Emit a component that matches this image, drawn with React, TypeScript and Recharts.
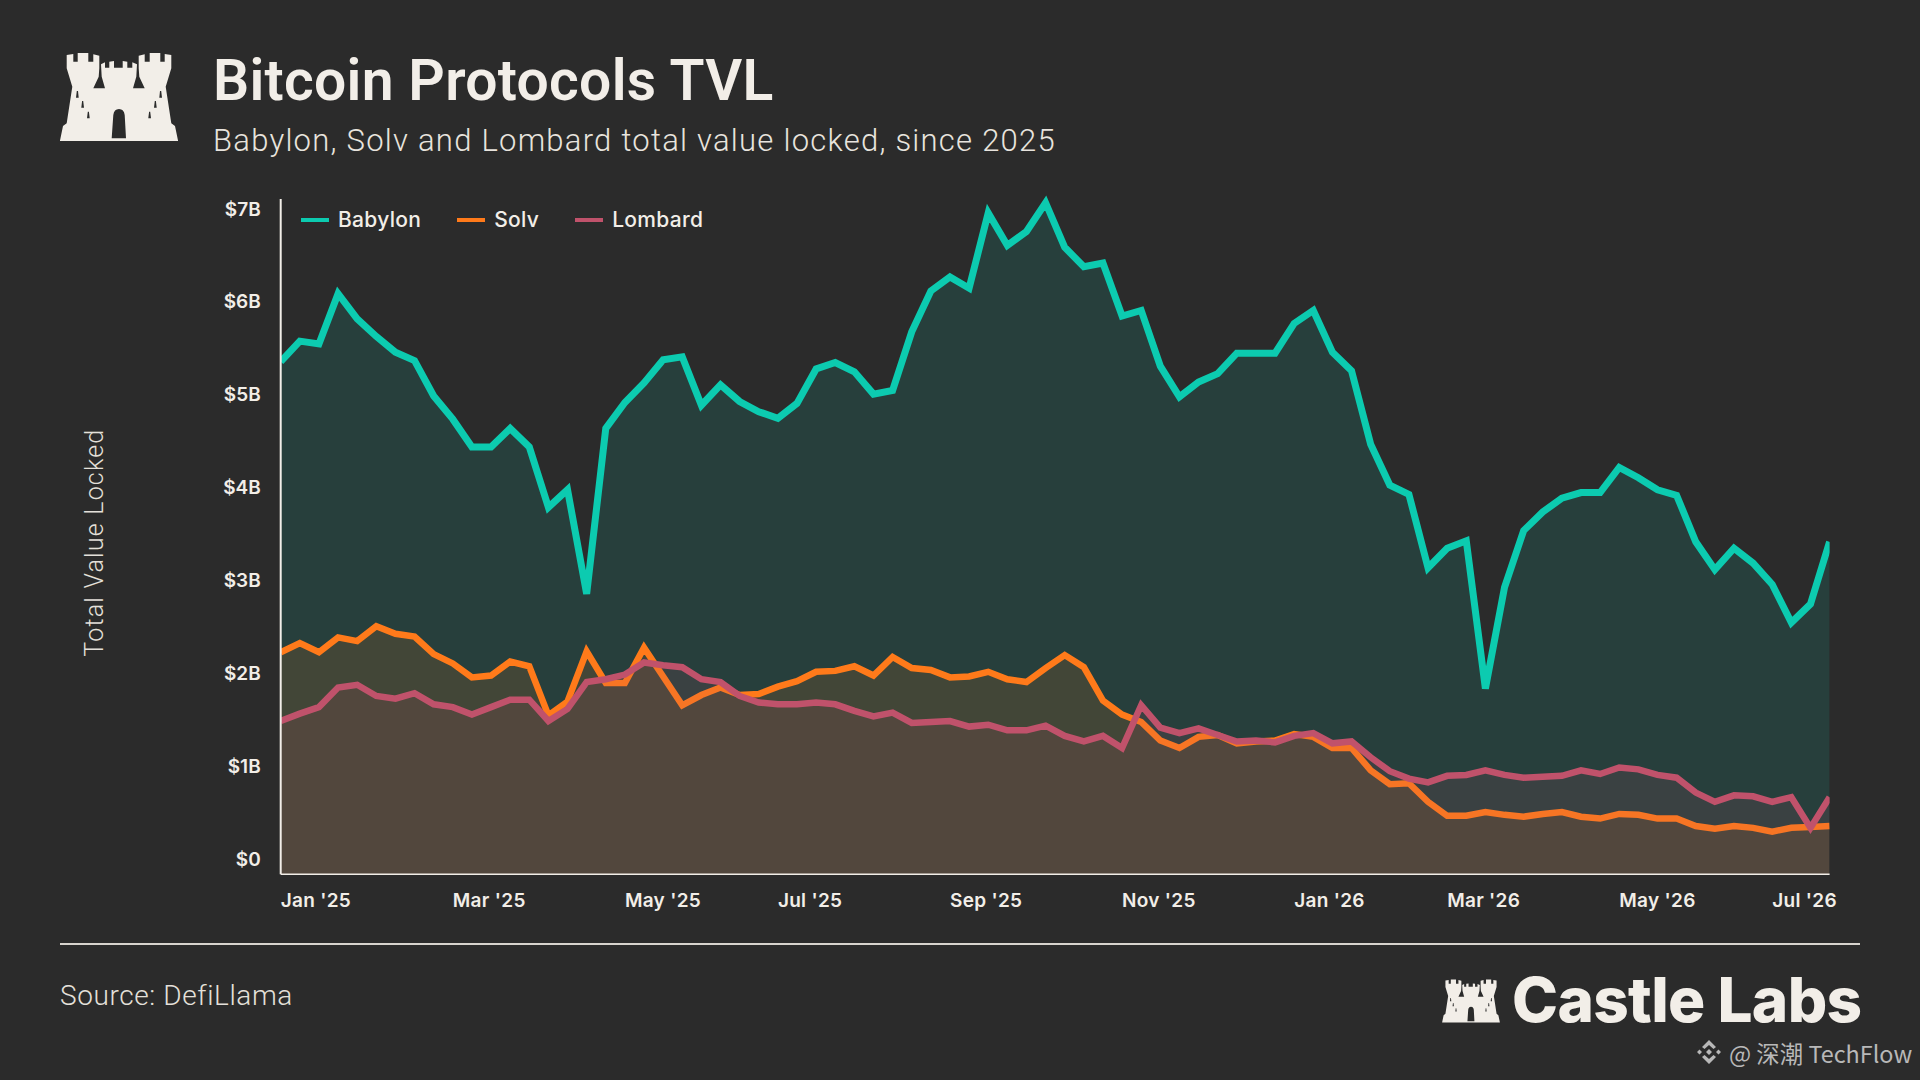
import { AreaChart, Area, XAxis, YAxis, Legend } from "recharts";

const weeks = [
  "2025-01-05", "2025-01-12", "2025-01-19", "2025-01-26", "2025-02-02", "2025-02-09", "2025-02-16", "2025-02-23",
  "2025-03-02", "2025-03-09", "2025-03-16", "2025-03-23", "2025-03-30", "2025-04-06", "2025-04-13", "2025-04-20",
  "2025-04-27", "2025-05-04", "2025-05-11", "2025-05-18", "2025-05-25", "2025-06-01", "2025-06-08", "2025-06-15",
  "2025-06-22", "2025-06-29", "2025-07-06", "2025-07-13", "2025-07-20", "2025-07-27", "2025-08-03", "2025-08-10",
  "2025-08-17", "2025-08-24", "2025-08-31", "2025-09-07", "2025-09-14", "2025-09-21", "2025-09-28", "2025-10-05",
  "2025-10-12", "2025-10-19", "2025-10-26", "2025-11-02", "2025-11-09", "2025-11-16", "2025-11-23", "2025-11-30",
  "2025-12-07", "2025-12-14", "2025-12-21", "2025-12-28", "2026-01-04", "2026-01-11", "2026-01-18", "2026-01-25",
  "2026-02-01", "2026-02-08", "2026-02-15", "2026-02-22", "2026-03-01", "2026-03-08", "2026-03-15", "2026-03-22",
  "2026-03-29", "2026-04-05", "2026-04-12", "2026-04-19", "2026-04-26", "2026-05-03", "2026-05-10", "2026-05-17",
  "2026-05-24", "2026-05-31", "2026-06-07", "2026-06-14", "2026-06-21", "2026-06-28", "2026-07-05", "2026-07-12",
  "2026-07-19", "2026-07-26",
];

const babylon = [
  5.52, 5.74, 5.71, 6.25, 5.98, 5.79, 5.62, 5.53, 5.15, 4.9, 4.6, 4.6, 4.8, 4.6, 3.95, 4.14, 3.02, 4.8, 5.08, 5.29,
  5.54, 5.57, 5.05, 5.27, 5.09, 4.98, 4.91, 5.07, 5.44, 5.51, 5.41, 5.17, 5.21, 5.84, 6.28, 6.43, 6.31, 7.12, 6.77,
  6.92, 7.23, 6.75, 6.54, 6.58, 6.01, 6.07, 5.47, 5.14, 5.3, 5.39, 5.61, 5.61, 5.61, 5.93, 6.07, 5.62, 5.42, 4.63,
  4.19, 4.09, 3.3, 3.51, 3.59, 2.0, 3.09, 3.7, 3.9, 4.05, 4.11, 4.11, 4.38, 4.27, 4.14, 4.08, 3.58, 3.28, 3.51, 3.35,
  3.12, 2.71, 2.91, 3.58,
];

const solv = [
  2.39, 2.49, 2.39, 2.55, 2.51, 2.67, 2.59, 2.56, 2.37, 2.27, 2.12, 2.14, 2.29, 2.24, 1.71, 1.86, 2.4, 2.06, 2.06,
  2.44, 2.13, 1.82, 1.93, 2.01, 1.93, 1.94, 2.02, 2.08, 2.18, 2.19, 2.24, 2.14, 2.34, 2.22, 2.2, 2.12, 2.13, 2.18,
  2.1, 2.07, 2.22, 2.36, 2.23, 1.87, 1.72, 1.64, 1.44, 1.36, 1.48, 1.5, 1.41, 1.43, 1.44, 1.51, 1.48, 1.36, 1.36,
  1.12, 0.97, 0.98, 0.78, 0.63, 0.63, 0.67, 0.64, 0.62, 0.65, 0.67, 0.62, 0.6, 0.65, 0.64, 0.6, 0.6, 0.52, 0.49,
  0.52, 0.5, 0.46, 0.5, 0.51, 0.52,
];

const lombard = [
  1.65, 1.73, 1.8, 2.01, 2.04, 1.92, 1.89, 1.95, 1.83, 1.8, 1.72, 1.8, 1.88, 1.88, 1.65, 1.78, 2.07, 2.1, 2.15, 2.28,
  2.25, 2.23, 2.1, 2.07, 1.92, 1.85, 1.83, 1.83, 1.85, 1.83, 1.76, 1.7, 1.74, 1.63, 1.64, 1.65, 1.59, 1.61, 1.55,
  1.55, 1.6, 1.49, 1.43, 1.49, 1.36, 1.82, 1.58, 1.52, 1.57, 1.5, 1.43, 1.44, 1.42, 1.49, 1.52, 1.41, 1.43, 1.26,
  1.11, 1.03, 0.99, 1.06, 1.07, 1.12, 1.07, 1.04, 1.05, 1.06, 1.12, 1.08, 1.15, 1.13, 1.07, 1.04, 0.88, 0.78, 0.85,
  0.84, 0.78, 0.83, 0.5, 0.83,
];

const xTicks = [
  "2025-01-05", "2025-03-09", "2025-05-11", "2025-07-06", "2025-09-07", "2025-11-09", "2026-01-11", "2026-03-08",
  "2026-05-10", "2026-07-05",
];
const xTickLabels = ["Jan '25", "Mar '25", "May '25", "Jul '25", "Sep '25", "Nov '25", "Jan '26", "Mar '26", "May '26", "Jul '26"];
const yTicks = [0, 1, 2, 3, 4, 5, 6, 7];

const chartData = weeks.map((week, i) => ({
  week,
  Babylon: babylon[i],
  Solv: solv[i],
  Lombard: lombard[i],
}));

const BG = "#2b2b2b";
const CREAM = "#f2eee8";
const TEAL = "#0ccbb0";
const ORANGE = "#ff7a1a";
const ROSE = "#c0526b";
const FONT = "Inter, sans-serif";

function Castle({ x, y, width, height }: { x: number; y: number; width: number; height: number }) {
  return (
    <svg style={{ position: "absolute", left: x, top: y }} width={width} height={height} viewBox="0 0 118 90">
      <path
        fill={CREAM}
        fillRule="evenodd"
        d="M6.7 3 L13.3 2 L13.3 9.7 L17.7 9.7 L17.7 1 L28.3 1 L28.3 9.7 L33.3 9.7 L33.3 2.3 L39.3 3.7 L39.3 16.3 L38.7 24.7
           L33.3 36.3 L45 36.3 L41.7 24.7 L41 12.3 L45 10.3 L45 15.7 L49.3 15.7 L49.3 9.7 L54 9 L54 15.7 L62.7 15.7 L62.7 9
           L67.3 9.7 L67.3 15.7 L72.3 15.7 L72.3 10.3 L77 12.3 L76.3 24.7 L73 36.3 L84.7 36.3 L79.3 24.7 L78.7 16.3 L78.7 3.7
           L84.7 2.3 L84.7 9.7 L89.7 9.7 L89.7 1 L100.3 1 L100.3 9.7 L104.7 9.7 L104.7 2 L111.3 3 L111.3 16.3 L105.7 34.7
           L111.3 71.3 L115 74 L118 88.5 L118 89 L0 89 L0 88.5 L3 74 L6.7 71.3 L12.3 34.7 L6.7 16.3 Z
           M51.7 86.3 L53.3 63 Q54 57 59 57 Q64 57 64.7 63 L66 86.3 Z
           M16 45.7 L16.8 39 L18 39 L18.7 45.7 Z M21.3 55.7 L22.1 49 L23.2 49 L24 55.7 Z M27 66.3 L27.8 59.7 L28.9 59.7 L29.7 66.3 Z
           M99.3 45.7 L100 39 L101.2 39 L102 45.7 Z M94 55.7 L94.8 49 L95.9 49 L96.7 55.7 Z M88.3 66.3 L89.1 59.7 L90.2 59.7 L91 66.3 Z"
      />
    </svg>
  );
}

function YTick({ x, y, payload }: any) {
  return (
    <text x={x} y={y - 15} textAnchor="end" dominantBaseline="central" fill={CREAM} fontFamily={FONT} fontSize={19} fontWeight={600}>
      {`$${payload.value === 0 ? "0" : payload.value + "B"}`}
    </text>
  );
}

function XTick({ x, y, payload }: any) {
  return (
    <text x={x} y={y} textAnchor="start" dominantBaseline="central" fill={CREAM} fontFamily={FONT} fontSize={19} fontWeight={600} letterSpacing={0.3}>
      {xTickLabels[xTicks.indexOf(payload.value)]}
    </text>
  );
}

function LegendRow({ payload }: any) {
  return (
    <div style={{ display: "flex", gap: 36, fontFamily: FONT, fontSize: 21, fontWeight: 500, letterSpacing: 0.3, color: CREAM }}>
      {(payload ?? []).map((p: any) => (
        <div key={p.value} style={{ display: "flex", alignItems: "center", gap: 9 }}>
          <span style={{ display: "inline-block", width: 28, height: 4, background: p.color }} />
          {p.value}
        </div>
      ))}
    </div>
  );
}

export default function App() {
  const text = (extra: React.CSSProperties) => ({ position: "absolute" as const, whiteSpace: "nowrap" as const, ...extra });
  return (
    <div style={{ position: "absolute", left: 0, top: 0, width: 1920, height: 1080, background: BG, overflow: "hidden" }}>
      <Castle x={60} y={52} width={118} height={90} />
      <div style={text({ left: 213, top: 47, fontFamily: "Roboto", fontSize: 57, fontWeight: 600, color: CREAM, letterSpacing: 0.3 })}>
        Bitcoin Protocols TVL
      </div>
      <div style={text({ left: 213, top: 122, fontFamily: "Roboto", fontSize: 31, fontWeight: 300, color: "#e8e4de", letterSpacing: 1.25 })}>
        Babylon, Solv and Lombard total value locked, since 2025
      </div>

      <div style={{ position: "absolute", left: 0, top: 0 }}>
        {/* bottom margin is short by the legend's height, which recharts takes off the plot */}
        <AreaChart width={1920} height={1080} data={chartData} margin={{ top: 199, right: 90.4, bottom: 120.7, left: 200.7 }}>
          <XAxis
            dataKey="week"
            ticks={xTicks}
            interval={0}
            allowDataOverflow
            padding={{ left: 0, right: 0 }}
            tick={<XTick />}
            tickLine={false}
            tickMargin={20}
            height={60}
            stroke={CREAM}
            strokeWidth={1.5}
          />
          <YAxis
            domain={[0, 7.27]}
            ticks={yTicks}
            interval={0}
            width={80}
            tick={<YTick />}
            tickLine={false}
            tickMargin={14}
            stroke={CREAM}
            strokeWidth={2}
            label={{
              value: "Total Value Locked",
              angle: -90,
              position: "insideLeft",
              offset: -107,
              dy: 6,
              style: { textAnchor: "middle", fontFamily: "Roboto", fontSize: 25, fontWeight: 300, fill: "#e4e0da", letterSpacing: 1.2 },
            }}
          />
          <Legend content={<LegendRow />} itemSorter={null} wrapperStyle={{ left: 301, top: 207, width: "auto" }} />
          <Area dataKey="Babylon" type="linear" stroke={TEAL} strokeWidth={7} fill={TEAL} fillOpacity={0.13} dot={false} activeDot={false} isAnimationActive={false} />
          <Area dataKey="Solv" type="linear" stroke={ORANGE} strokeWidth={6.5} fill={ORANGE} fillOpacity={0.13} dot={false} activeDot={false} isAnimationActive={false} />
          <Area dataKey="Lombard" type="linear" stroke={ROSE} strokeWidth={6.5} fill={ROSE} fillOpacity={0.13} dot={false} activeDot={false} isAnimationActive={false} />
        </AreaChart>
      </div>

      <div style={{ position: "absolute", left: 60, top: 943, width: 1800, height: 1.5, background: "#d8d4ce" }} />
      <div style={text({ left: 60, top: 979, fontFamily: "Roboto", fontSize: 28, fontWeight: 300, color: "#e4e0da", letterSpacing: 0.6 })}>
        Source: DefiLlama
      </div>
      <Castle x={1442} y={979} width={58} height={44} />
      <div style={text({ left: 1512, top: 962, fontFamily: "Inter", fontSize: 62, fontWeight: 800, color: CREAM, letterSpacing: -0.7 })}>
        Castle Labs
      </div>
      <svg style={{ position: "absolute", left: 1696, top: 1039 }} width={26} height={26} viewBox="0 0 26 26">
        <path fill="#b8b8b8" d="M13 1 L20 8 L17.5 10 L13 6 L8.5 10 L6 8 Z M13 25 L6 18 L8.5 16 L13 20 L17.5 16 L20 18 Z M13 10 L16 13 L13 16 L10 13 Z M1 13 L3.5 10.5 L6 13 L3.5 15.5 Z M20 13 L22.5 10.5 L25 13 L22.5 15.5 Z" />
      </svg>
      <div style={text({ left: 1729, top: 1036, fontFamily: "'Noto Sans CJK SC', 'Noto Sans'", fontSize: 23.4, color: "#b8b8b8" })}>
        @ 深潮 TechFlow
      </div>
    </div>
  );
}
